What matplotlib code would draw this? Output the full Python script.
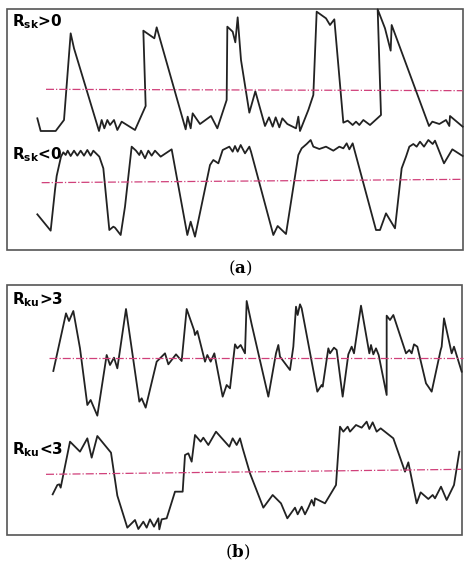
import numpy as np
import matplotlib
matplotlib.use('Agg')
import matplotlib.pyplot as plt
from matplotlib.patches import Rectangle

# profile traces (x, height) in 1/3-pixel units
rsk_pos = [(112,355),(122,393),(167,393),(192,360),(212,100),(222,145),(297,393),(305,360),(313,385),
           (322,360),(330,375),(342,360),(352,390),(365,365),(405,390),(437,318),(430,92),(463,115),
           (470,82),(557,388),(563,350),(572,385),(578,340),(600,372),(633,348),(652,385),(680,300),
           (682,80),(698,95),(706,127),(713,52),(723,180),(748,338),(766,274),(795,378),(807,352),
           (818,380),(827,352),(838,382),(847,355),(862,372),(888,385),(895,350),(900,393),(925,330),
           (940,285),(950,35),(978,55),(990,75),(1003,58),(1030,368),(1043,362),(1058,375),(1068,365),
           (1078,375),(1090,360),(1110,375),(1143,345),(1133,28),(1155,85),(1172,152),(1175,75),
           (1287,378),(1297,365),(1318,372),(1338,360),(1348,378),(1350,348),(1388,380)]
rsk_neg = [(112,643),(152,692),(165,570),(170,528),(183,470),(190,457),(197,465),(203,452),(212,468),
           (222,452),(232,467),(242,452),(252,467),(262,450),(272,467),(280,452),(298,470),(310,505),
           (328,690),(340,680),(345,683),(362,705),(375,620),(395,440),(408,452),(418,465),(423,452),
           (435,475),(445,452),(455,467),(465,452),(482,470),(515,448),(562,705),(572,665),(585,710),
           (630,495),(640,480),(655,490),(668,450),(688,440),(698,455),(705,438),(713,455),(722,435),
           (735,460),(748,440),(753,455),(820,705),(833,678),(858,702),(895,465),(905,445),(920,432),
           (932,420),(940,440),(958,447),(978,440),(1000,452),(1018,440),(1030,445),(1040,430),
           (1048,448),(1058,430),(1128,690),(1140,690),(1158,640),(1185,685),(1205,505),(1218,470),
           (1228,440),(1240,432),(1250,440),(1260,425),(1272,440),(1285,420),(1298,432),(1305,422),
           (1332,490),(1357,448),(1388,468)]
rku_hi = [(160,258),(198,85),(207,108),(220,78),(240,190),(262,360),(272,345),(292,392),(320,210),
          (330,240),(342,218),(352,250),(378,72),(418,350),(425,340),(437,368),(470,230),(495,205),
          (505,238),(528,208),(545,228),(560,72),(582,135),(585,150),(592,138),(615,230),(622,210),
          (632,230),(643,205),(668,335),(680,300),(690,310),(705,178),(712,190),(722,180),(735,205),
          (740,48),(755,118),(805,335),(828,205),(835,180),(840,215),(870,255),(880,185),(888,65),
          (893,90),(900,58),(905,70),(952,320),(965,300),(968,305),(985,190),(990,205),(1002,188),
          (1010,195),(1028,335),(1045,208),(1055,185),(1062,205),(1083,62),(1108,205),(1113,180),
          (1120,208),(1128,190),(1136,210),(1160,330),(1160,92),(1170,105),(1180,90),(1218,205),
          (1228,195),(1235,205),(1242,178),(1252,185),(1278,295),(1285,305),(1295,320),(1322,195),
          (1325,185),(1332,100),(1355,205),(1362,185),(1385,260)]
rku_lo = [(158,628),(172,600),(178,598),(182,608),(210,470),(240,500),(262,460),(275,518),(292,453),
          (333,503),(352,632),(382,728),(405,705),(415,732),(430,710),(440,728),(450,703),(462,725),
          (475,700),(478,733),(485,703),(500,700),(525,620),(548,620),(555,510),(565,505),(575,530),
          (585,450),(602,470),(610,458),(625,480),(648,440),(688,485),(698,460),(710,480),(720,460),
          (728,490),(750,565),(790,668),(818,630),(843,655),(862,700),(885,668),(893,688),(905,665),
          (915,688),(925,668),(935,645),(942,662),(945,640),(975,655),(1008,600),(1020,425),(1030,440),
          (1043,425),(1050,440),(1068,420),(1085,428),(1100,410),(1108,432),(1118,412),(1130,440),
          (1142,430),(1180,460),(1215,560),(1225,532),(1250,655),(1262,622),(1285,642),(1298,630),
          (1305,640),(1323,605),(1340,645),(1362,600),(1378,500)]
# mean lines (x0, y0, x1, y1)
mean_a = [(138,268,1388,272),(125,548,1388,538)]
mean_b = [(148,218,1388,218),(138,568,1385,553)]
labels_a = ["sk>0", "sk<0"]
labels_b = ["ku>3", "ku<3"]

fig = plt.figure(figsize=(4.74, 5.73), dpi=100)
ax = fig.add_axes([0, 0, 1, 1])
ax.set_xlim(0, 474)
ax.set_ylim(573, 0)
ax.axis('off')

def draw(trace, off):
    p = np.array(trace, dtype=float)
    ax.plot(p[:, 0] / 3, p[:, 1] / 3 + off, color='#222222', lw=1.3)

for tr in (rsk_pos, rsk_neg):
    draw(tr, 0)
for tr in (rku_hi, rku_lo):
    draw(tr, 285)
for (x0, y0, x1, y1) in mean_a:
    ax.plot([x0/3, x1/3], [y0/3, y1/3], color='#d0407a', lw=0.9, ls='-.')
for (x0, y0, x1, y1) in mean_b:
    ax.plot([x0/3, x1/3], [y0/3 + 285, y1/3 + 285], color='#d0407a', lw=0.9, ls='-.')

ax.add_patch(Rectangle((7, 8.5), 456, 241, fill=False, ec='#555555', lw=1.2))
ax.add_patch(Rectangle((7, 285), 455, 250, fill=False, ec='#555555', lw=1.2))

for lab, y in zip(labels_a + labels_b, [22, 155, 300, 450]):
    ax.text(12, y, r"$\mathbf{R_{%s}}$%s" % (lab[:2], lab[2:]), fontsize=11, fontweight='bold',
            va='center', math_fontfamily='dejavusans')

ax.text(240, 268, r"($\mathbf{a}$)", fontsize=12, family='DejaVu Serif', ha='center', va='center',
        math_fontfamily='dejavuserif')
ax.text(238, 552, r"($\mathbf{b}$)", fontsize=12, family='DejaVu Serif', ha='center', va='center',
        math_fontfamily='dejavuserif')

fig.savefig('out.png', dpi=100, facecolor='white')
